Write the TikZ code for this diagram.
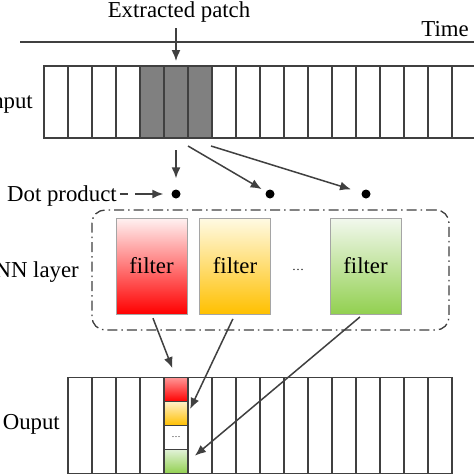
\documentclass[tikz,border=0pt]{standalone}
\usepackage{fontspec}
\setmainfont{Liberation Serif}
\usetikzlibrary{arrows.meta,calc}
\definecolor{ln}{RGB}{64,64,64}
\definecolor{patchgray}{RGB}{128,128,128}
\definecolor{fborder}{RGB}{165,165,165}
\definecolor{rtop}{RGB}{255,242,242}
\definecolor{rbot}{RGB}{255,0,0}
\definecolor{ytop}{RGB}{255,250,228}
\definecolor{ybot}{RGB}{255,192,0}
\definecolor{gtop}{RGB}{242,248,238}
\definecolor{gbot}{RGB}{146,208,80}
\definecolor{ortop}{RGB}{255,150,150}
\definecolor{oytop}{RGB}{255,240,200}
\definecolor{ogtop}{RGB}{225,242,215}
\begin{document}
\begin{tikzpicture}[x=1pt,y=-1pt,
  lbl/.style={font=\fontsize{22.8}{27}\selectfont, inner sep=0pt, text=black},
  cell/.style={draw=ln, line width=1.4pt, minimum width=24pt, inner sep=0pt, outer sep=0pt, fill=white},
  incell/.style={cell, minimum height=72pt},
  outcell/.style={cell, minimum height=96pt},
  obox/.style={cell, minimum height=24pt},
  arr/.style={draw=ln, line width=1.5pt, -{Latex[length=11pt,width=9pt]}},
  dotn/.style={circle, fill=black, minimum size=9pt, inner sep=0pt},
  filt/.style={draw=fborder, line width=0.8pt, minimum width=71pt, minimum height=96pt, inner sep=0pt,
    font=\fontsize{22.8}{27}\selectfont},
]
\useasboundingbox (0,0) rectangle (474,474);
\clip (0,0) rectangle (474,474);
\fill[white] (0,0) rectangle (474,474);

% titles
\node[lbl, anchor=base] (ext) at (179,17.5) {Extracted patch};
\node[lbl, anchor=base east] (time) at (469,36) {Time};
\coordinate (tl1) at (20,42);
\coordinate (tl2) at (476,42);
\draw[ln, line width=1.6pt] (tl1) -- (tl2);

% input row
\node[lbl, anchor=base east] (inlbl) at (33,108) {Input};
\foreach \i in {0,1,2,3,7,8,9,10,11,12,13,14,15,16,17,18}
  \node[incell] (in\i) at (56+24*\i,102) {};
\foreach \i in {4,5,6}
  \node[incell, fill=patchgray] (in\i) at (56+24*\i,102) {};

\coordinate (etop) at (176,28);
\draw[arr, shorten >=5pt] (etop) -- (in5.north);

% dots
\node[dotn] (d1) at (176,194) {};
\node[dotn] (d2) at (270,194) {};
\node[dotn] (d3) at (366,194) {};
\coordinate (a1s) at (176,150);
\coordinate (a2s) at (188,146);
\coordinate (a3s) at (211,146);
\draw[arr, shorten >=11pt] (a1s) -- (d1);
\draw[arr, shorten >=5pt] (a2s) -- (d2);
\draw[arr, shorten >=11pt] (a3s) -- (d3);

\node[lbl, anchor=base west] (dp) at (7,201) {Dot product};
\draw[arr, dash pattern=on 8pt off 7pt on 60pt off 0pt, shorten <=3pt, shorten >=8pt] (dp.east |- d1) -- (d1);

% CNN layer
\node[lbl, anchor=base east] (cnnlbl) at (79,277) {CNN layer};
\node[draw=ln, line width=1.3pt, rounded corners=13pt,
      dash pattern=on 10pt off 4pt on 1.5pt off 4pt,
      minimum width=357pt, minimum height=120pt, inner sep=0pt] (cnn) at (270.5,270) {};
\node[filt, top color=rtop, bottom color=rbot] (f1) at (151.5,266) {filter};
\node[filt, top color=ytop, bottom color=ybot] (f2) at (235,266) {filter};
\node[filt, top color=gtop, bottom color=gbot] (f3) at (365.5,266) {filter};
\node[inner sep=0pt, font=\fontsize{12}{14}\selectfont] (fdots) at (298,270) {…};

% output row
\node[lbl, anchor=base east] (outlbl) at (60,429) {Ouput};
\foreach \i in {0,1,2,3,5,6,7,8,9,10,11,12,13,14,15}
  \node[outcell] (out\i) at (80+24*\i,425.5) {};
\node[obox, top color=ortop, bottom color=rbot, draw=ln] (ob1) at (176,389.5) {};
\node[obox, top color=oytop, bottom color=ybot, draw=ln] (ob2) at (176,413.5) {};
\node[obox, font=\fontsize{9}{10}\selectfont] (ob3) at (176,437.5) {…};
\node[obox, top color=ogtop, bottom color=gbot, draw=ln] (ob4) at (176,461.5) {};

\draw[arr, shorten <=4pt, shorten >=10pt] (f1.south) -- (ob1.north);
\draw[arr, shorten <=5pt, shorten >=5pt] (f2.south) -- (ob2.east);
\draw[arr, shorten <=4pt, shorten >=9pt] ([xshift=-2.5pt]f3.south) -- (ob4.east);
\end{tikzpicture}
\end{document}
